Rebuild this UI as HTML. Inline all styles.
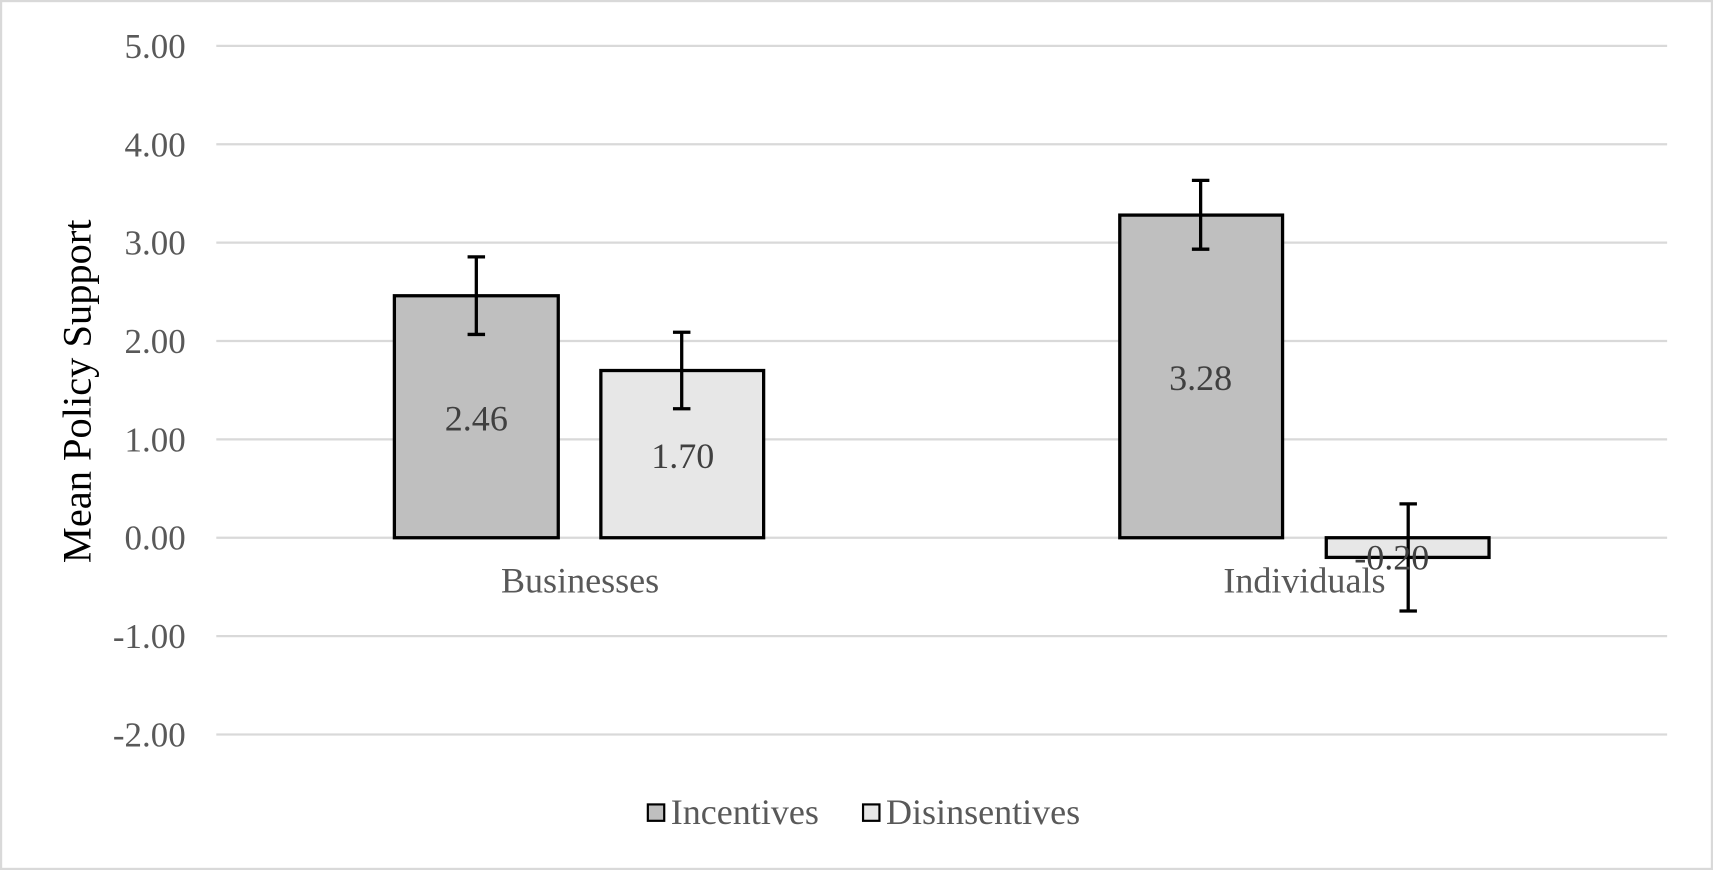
<!DOCTYPE html>
<html><head><style>html,body{margin:0;padding:0;background:#fff}svg{display:block}</style></head>
<body>
<svg width="1713" height="870" viewBox="0 0 1568 796" preserveAspectRatio="none" xmlns="http://www.w3.org/2000/svg" font-family="'Liberation Serif', serif">
<rect x="1" y="1" width="1566" height="794" fill="#fff" stroke="#d9d9d9" stroke-width="2"/>
<g stroke="#d9d9d9" stroke-width="2">
<line x1="198" x2="1526" y1="42" y2="42"/><line x1="198" x2="1526" y1="132" y2="132"/>
<line x1="198" x2="1526" y1="222" y2="222"/><line x1="198" x2="1526" y1="312" y2="312"/>
<line x1="198" x2="1526" y1="402" y2="402"/><line x1="198" x2="1526" y1="492" y2="492"/>
<line x1="198" x2="1526" y1="582" y2="582"/><line x1="198" x2="1526" y1="672" y2="672"/>
</g>
<g fill="#595959" font-size="32" text-anchor="end">
<text x="170" y="53">5.00</text><text x="170" y="143">4.00</text><text x="170" y="233">3.00</text>
<text x="170" y="323">2.00</text><text x="170" y="413">1.00</text><text x="170" y="503">0.00</text>
<text x="170" y="593">-1.00</text><text x="170" y="683">-2.00</text>
</g>
<text transform="translate(83,358) rotate(-90)" font-size="37" text-anchor="middle" fill="#000">Mean Policy Support</text>
<g stroke="#000" stroke-width="3">
<rect x="361" y="270.6" width="150" height="221.4" fill="#bfbfbf"/>
<rect x="550" y="339" width="149" height="153" fill="#e7e7e7"/>
<rect x="1025" y="196.8" width="149" height="295.2" fill="#bfbfbf"/>
<rect x="1214" y="492" width="149" height="18" fill="#e7e7e7"/>
<path d="M436 235V306M428 235H444M428 306H444" fill="none"/>
<path d="M624 304V374M616 304H632M616 374H632" fill="none"/>
<path d="M1099 165V228M1091 165H1107M1091 228H1107" fill="none"/>
<path d="M1289 461V559M1281 461H1297M1281 559H1297" fill="none"/>
</g>
<g fill="#404040" font-size="33" text-anchor="middle">
<text x="436" y="394">2.46</text><text x="625" y="428">1.70</text>
<text x="1099" y="357">3.28</text><text x="1274" y="521">-0.20</text>
</g>
<g fill="#595959" font-size="33" text-anchor="middle">
<text x="531" y="542">Businesses</text><text x="1194" y="542">Individuals</text>
</g>
<rect x="593" y="736" width="15" height="15" fill="#bfbfbf" stroke="#000" stroke-width="2"/>
<text x="614" y="754" font-size="33" fill="#595959">Incentives</text>
<rect x="790" y="736" width="15" height="15" fill="#e7e7e7" stroke="#000" stroke-width="2"/>
<text x="811" y="754" font-size="33" fill="#595959">Disinsentives</text>
</svg>
</body></html>
